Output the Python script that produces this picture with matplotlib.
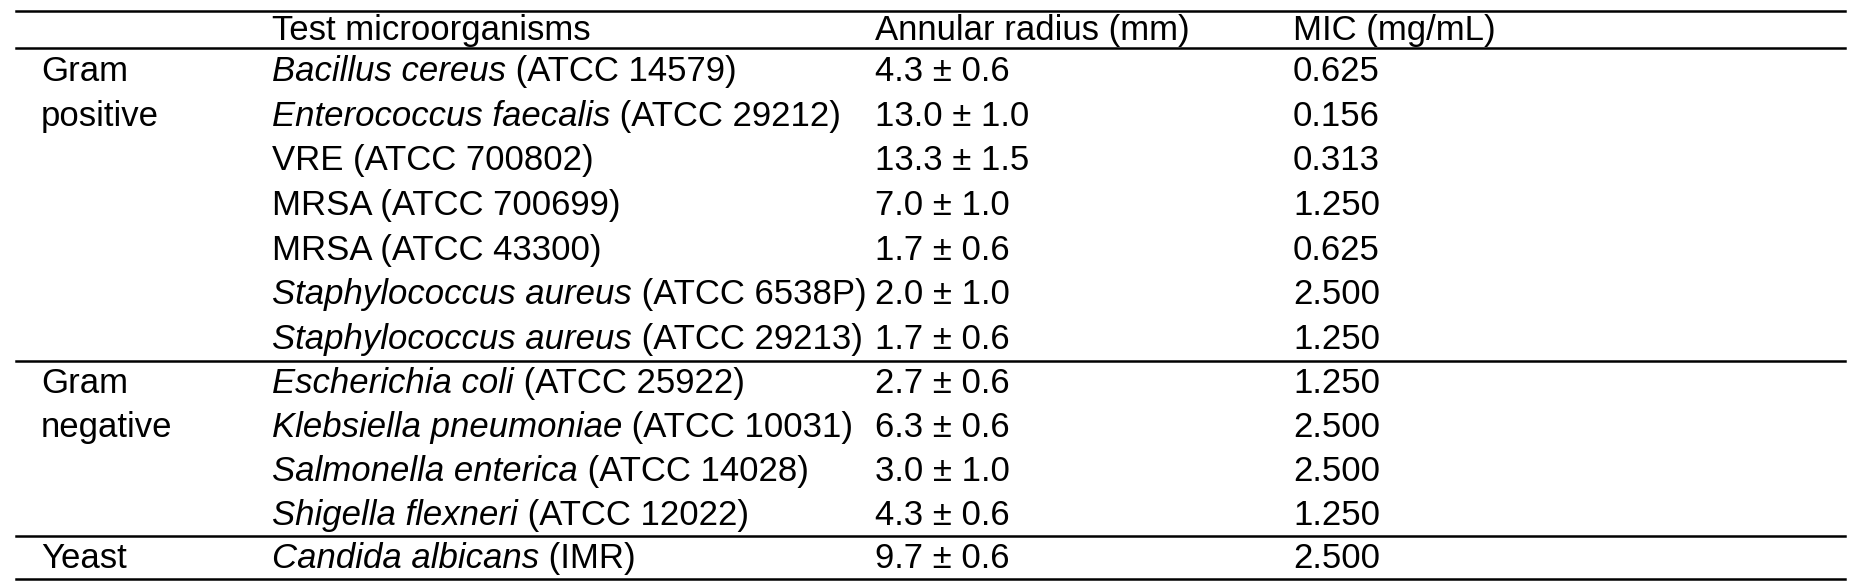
import matplotlib
matplotlib.use("Agg")
import matplotlib.pyplot as plt

groups = [("Gram\npositive", 7), ("Gram\nnegative", 4), ("Yeast", 1)]
species = ["Bacillus cereus", "Enterococcus faecalis", None, None, None,
           "Staphylococcus aureus", "Staphylococcus aureus",
           "Escherichia coli", "Klebsiella pneumoniae", "Salmonella enterica",
           "Shigella flexneri", "Candida albicans"]
strains = ["(ATCC 14579)", "(ATCC 29212)", "VRE (ATCC 700802)", "MRSA (ATCC 700699)",
           "MRSA (ATCC 43300)", "(ATCC 6538P)", "(ATCC 29213)", "(ATCC 25922)",
           "(ATCC 10031)", "(ATCC 14028)", "(ATCC 12022)", "(IMR)"]
radius = ["4.3 ± 0.6", "13.0 ± 1.0", "13.3 ± 1.5", "7.0 ± 1.0", "1.7 ± 0.6",
          "2.0 ± 1.0", "1.7 ± 0.6", "2.7 ± 0.6", "6.3 ± 0.6", "3.0 ± 1.0",
          "4.3 ± 0.6", "9.7 ± 0.6"]
mic = ["0.625", "0.156", "0.313", "1.250", "0.625", "2.500", "1.250", "1.250",
       "2.500", "2.500", "1.250", "2.500"]
headers = ["Test microorganisms", "Annular radius (mm)", "MIC (mg/mL)"]

W, H = 1859, 581
fig = plt.figure(figsize=(W/100, H/100), dpi=100)
ax = fig.add_axes([0, 0, 1, 1])
ax.set_xlim(0, W); ax.set_ylim(H, 0); ax.axis("off")
fs = 25
fam = "Liberation Sans"
kw = dict(fontsize=fs, family=fam, va="center", ha="left")
X0, X1, X2, X3 = 41, 272, 875, 1293
top, hdr_line = 11, 48
group_lines = [361, 536, 579]

def hline(y):
    ax.plot([16, 1845], [y, y], color="black", lw=1.8)

hline(top); hline(hdr_line)
for h, x in zip(headers, [X1, X2, X3]):
    ax.text(x, (top+hdr_line)/2 + 1, h, **kw)

i = 0
y0 = hdr_line
for (gname, n), y1 in zip(groups, group_lines):
    rh = (y1 - y0) / n
    for k, ln in enumerate(gname.split("\n")):
        ax.text(X0, y0 + rh*(k+0.5) + 1, ln, **kw)
    for r in range(n):
        y = y0 + rh*(r+0.5) + 1
        if species[i]:
            t = ax.text(X1, y, species[i], style="italic", **kw)
            ax.annotate(" " + strains[i], xycoords=t, xy=(1, 0.5), va="center",
                        ha="left", fontsize=fs, family=fam)
        else:
            ax.text(X1, y, strains[i], **kw)
        ax.text(X2, y, radius[i], **kw)
        ax.text(X3, y, mic[i], **kw)
        i += 1
    y0 = y1
    hline(y1)

fig.savefig("out.png", dpi=100)
